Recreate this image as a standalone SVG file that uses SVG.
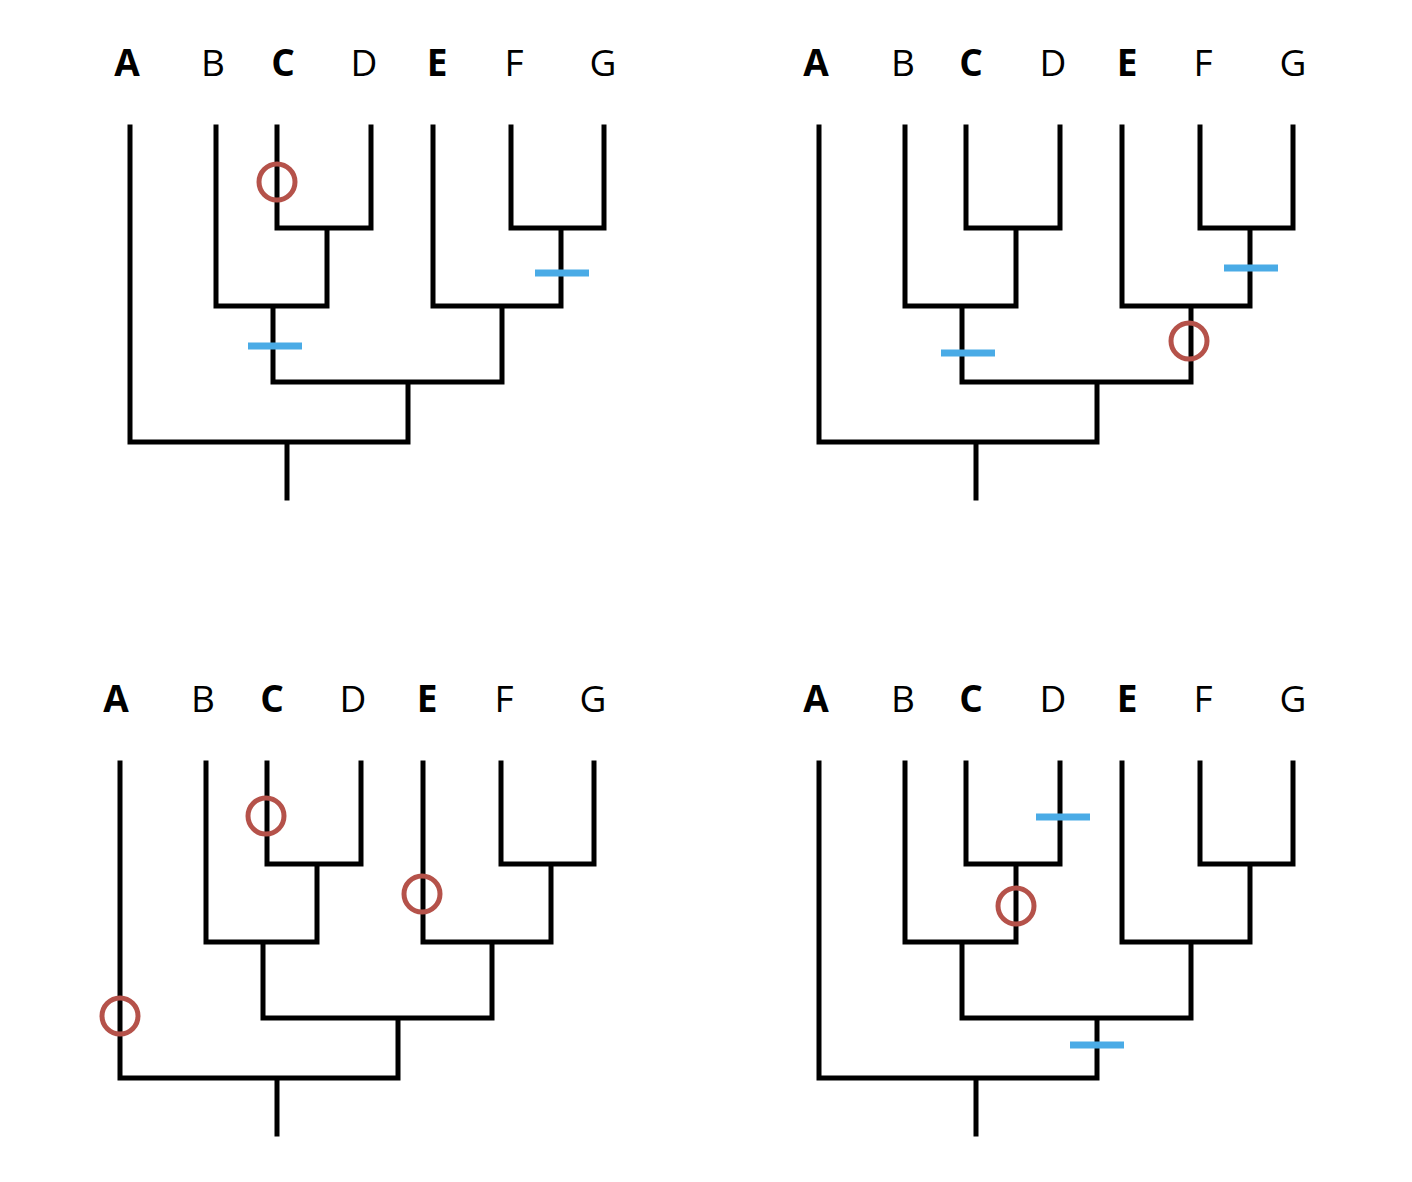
<svg xmlns="http://www.w3.org/2000/svg" width="1412" height="1182" viewBox="0 0 1412 1182">
<style>
.t{fill:none;stroke:#000;stroke-width:5;stroke-linecap:square;stroke-linejoin:miter}
.b{stroke:#4aabe6;stroke-width:7}
.c{fill:none;stroke:#b5524a;stroke-width:5}
text{font-family:"Open Sans","Liberation Sans",sans-serif;font-size:37px;text-anchor:middle}
.k{font-weight:bold}
</style>
<rect width="1412" height="1182" fill="#fff"/>
<defs>
<g id="tree1">
<path class="t" d="M130 127V442H408V382M216 127V306H327V228M277 127V228H371V127M273 306V382H502V306M433 127V306H561V228M511 127V228H604V127M287 442V498"/>
</g>
</defs>
<g id="tree-top-left">
<text x="127" y="76" class="k">A</text><text x="213" y="76">B</text><text x="283" y="76" class="k">C</text><text x="364" y="76">D</text><text x="437" y="76" class="k">E</text><text x="514" y="76">F</text><text x="603" y="76">G</text>
<use href="#tree1"/>
<circle class="c" cx="277" cy="182" r="18"/>
<line class="b" x1="248" y1="346" x2="302" y2="346"/>
<line class="b" x1="535" y1="273" x2="589" y2="273"/>
</g>
<g id="tree-top-right">
<text x="816" y="76" class="k">A</text><text x="903" y="76">B</text><text x="971" y="76" class="k">C</text><text x="1053" y="76">D</text><text x="1127" y="76" class="k">E</text><text x="1203" y="76">F</text><text x="1293" y="76">G</text>
<use href="#tree1" transform="translate(689,0)"/>
<line class="b" x1="941" y1="353" x2="995" y2="353"/>
<line class="b" x1="1224" y1="268" x2="1278" y2="268"/>
<circle class="c" cx="1189" cy="341" r="18"/>
</g>
<g id="tree-bottom-left">
<text x="116" y="712" class="k">A</text><text x="203" y="712">B</text><text x="272" y="712" class="k">C</text><text x="353" y="712">D</text><text x="427" y="712" class="k">E</text><text x="504" y="712">F</text><text x="593" y="712">G</text>
<use href="#tree1" transform="translate(-10,636)"/>
<circle class="c" cx="266" cy="816" r="18"/>
<circle class="c" cx="422" cy="894" r="18"/>
<circle class="c" cx="120" cy="1016" r="18"/>
</g>
<g id="tree-bottom-right">
<text x="816" y="712" class="k">A</text><text x="903" y="712">B</text><text x="971" y="712" class="k">C</text><text x="1053" y="712">D</text><text x="1127" y="712" class="k">E</text><text x="1203" y="712">F</text><text x="1293" y="712">G</text>
<use href="#tree1" transform="translate(689,636)"/>
<line class="b" x1="1036" y1="817" x2="1090" y2="817"/>
<line class="b" x1="1070" y1="1045" x2="1124" y2="1045"/>
<circle class="c" cx="1016" cy="906" r="18"/>
</g>
</svg>
